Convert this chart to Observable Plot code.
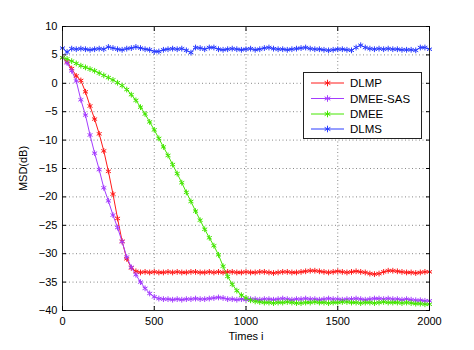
<!DOCTYPE html>
<html>
<head>
<meta charset="utf-8">
<script src="https://cdn.jsdelivr.net/npm/d3@7"></script>
<script src="https://cdn.jsdelivr.net/npm/@observablehq/plot@0.6"></script>
<style>
  html, body { margin: 0; padding: 0; background: #fff; }
  #wrap { position: relative; width: 474px; height: 350px; font-family: "Liberation Sans", Arial, Helvetica, sans-serif; }
  #legend { position: absolute; left: 303px; top: 72px; width: 119px; height: 67px; border: 1px solid #222; background: #fff; box-sizing: border-box; }
</style>
</head>
<body>
<div id="wrap"></div>
<script>
// ---- data ----
const seriesNames = ["DLMP", "DMEE-SAS", "DMEE", "DLMS"];
const seriesColors = ["#ff1a1a", "#a43cff", "#44e600", "#2a3cff"];
const iterations = d3.range(0, 2001, 25); // time index i, every 25 iterations

const dlmp = [
  4.5, 3.8, 2.6, 1.3, 0.5, -1.5, -4.0, -6.3, -8.9, -11.9, -15.5, -19.5, -23.8, -27.8, -30.9, -32.5, -33.1,
  -33.3, -33.2, -33.3, -33.2, -33.3, -33.3, -33.2, -33.3, -33.2, -33.3, -33.3, -33.2, -33.2, -33.3, -33.3, -33.2,
  -33.3, -33.2, -33.3, -33.2, -33.2, -33.3, -33.3, -33.2, -33.3, -33.3, -33.2, -33.2, -33.3, -33.4, -33.3, -33.2,
  -33.2, -33.3, -33.3, -33.2, -33.1, -33.0, -33.0, -33.1, -33.2, -33.3, -33.2, -33.1, -33.2, -33.3, -33.2, -33.1,
  -33.2, -33.3, -33.5, -33.6, -33.5, -33.2, -33.0, -33.0, -33.1, -33.2, -33.3, -33.3, -33.4, -33.3, -33.2, -33.2
];
const dmeeSas = [
  4.5, 3.6, 2.2, 0.4, -2.9, -5.6, -9.1, -12.3, -15.2, -18.4, -20.7, -23.2, -25.4, -27.9, -30.6, -32.4, -33.7,
  -35.0, -36.1, -37.0, -37.6, -37.9, -38.0,
  -38.0, -38.1, -38.0, -38.1, -38.0, -38.0, -37.9, -38.0, -38.0, -37.9, -37.8, -37.7, -37.8, -38.0, -38.0, -38.1,
  -38.0, -38.1, -38.0, -38.0, -38.1, -38.0, -38.0, -38.1, -38.0, -37.9, -38.0, -38.1, -38.0, -38.0, -37.9, -38.0,
  -38.0, -38.1, -38.0, -37.9, -38.0, -38.0, -38.1, -38.0, -38.0, -37.9, -38.0, -38.1, -38.0, -37.9, -37.9, -38.0,
  -37.9, -38.0, -38.0, -38.1, -38.0, -38.1, -38.2, -38.2, -38.3, -38.3
];
const dmee = [
  4.5, 4.3, 3.9, 3.5, 3.1, 2.8, 2.5, 2.2, 1.8, 1.4, 1.0, 0.6, 0.1, -0.4, -1.1, -2.0, -3.0, -4.2, -5.4, -6.8,
  -8.2, -9.7, -11.2, -12.7, -14.3, -15.9, -17.5, -19.2, -20.8, -22.5, -24.1, -25.7, -27.2, -28.6, -30.2, -32.2,
  -34.0, -35.4, -36.5, -37.3, -37.8, -38.2, -38.4, -38.5,
  -38.6, -38.6, -38.7, -38.6, -38.6, -38.5, -38.6, -38.7, -38.7, -38.6, -38.6, -38.5, -38.6, -38.6, -38.7, -38.6,
  -38.6, -38.5, -38.5, -38.6, -38.6, -38.7, -38.6, -38.6, -38.7, -38.6, -38.5, -38.6, -38.6, -38.6, -38.7, -38.6,
  -38.7, -38.8, -38.8, -38.9, -38.9
];
const dlms = [
  6.2, 5.5, 6.1, 6.0, 6.1, 6.0, 5.9, 6.0, 6.1, 6.0, 6.4, 6.2, 6.0, 5.9, 6.1, 6.2, 6.4, 6.2, 6.0, 5.9,
  5.6, 5.6, 5.9, 6.0, 6.1, 6.0, 6.1, 5.8, 5.4, 6.3, 6.2, 6.0, 6.3, 6.3, 6.0, 5.9, 6.0, 6.1, 6.0, 5.9,
  6.0, 6.1, 5.9, 6.0, 6.2, 6.3, 6.1, 6.0, 6.0, 5.9, 6.0, 6.1, 6.2, 6.3, 6.1, 6.0, 6.0, 5.9, 5.8, 5.9,
  6.0, 6.0, 5.9, 5.8, 6.3, 6.7, 6.3, 6.1, 6.0, 6.1, 6.0, 6.1, 6.0, 6.0, 5.9, 5.9, 5.9, 5.8, 6.3, 6.3, 6.0
];
const xTicks = [0, 500, 1000, 1500, 2000];
const yTicks = [-40, -35, -30, -25, -20, -15, -10, -5, 0, 5, 10];

// ---- long table for Plot ----
const allSeries = [dlmp, dmeeSas, dmee, dlms];
const rows = [];
allSeries.forEach((vals, k) => {
  vals.forEach((v, j) => rows.push({series: seriesNames[k], i: iterations[j], v}));
});

const fmt = d3.format("d");
const chart = Plot.plot({
  width: 474,
  height: 350,
  marginLeft: 62,
  marginRight: 45,
  marginTop: 26,
  marginBottom: 40,
  style: {fontFamily: "'Liberation Sans', Arial, Helvetica, sans-serif", fontSize: "11px", color: "#000", background: "#fff"},
  x: {domain: [0, 2000], label: "Times i", labelArrow: "none"},
  y: {domain: [-40, 10], label: "MSD(dB)", labelArrow: "none"},
  color: {domain: seriesNames, range: seriesColors},
  marks: [
    Plot.gridX(xTicks, {stroke: "#888", strokeOpacity: 1, strokeDasharray: "1,2.5"}),
    Plot.gridY(yTicks, {stroke: "#888", strokeOpacity: 1, strokeDasharray: "1,2.5"}),
    Plot.line(rows, {x: "i", y: "v", z: "series", stroke: "series", strokeWidth: 1}),
    Plot.dot(rows, {x: "i", y: "v", stroke: "series", symbol: "asterisk", r: 2.7, strokeWidth: 1}),
    Plot.frame({stroke: "#222", strokeWidth: 1}),
    Plot.axisX(xTicks, {anchor: "bottom", tickSize: -4, tickPadding: 11, tickFormat: fmt, label: "Times i", labelArrow: "none", labelAnchor: "center", labelOffset: 29, fontSize: 11}),
    Plot.axisX(xTicks, {anchor: "top", tickSize: -4, tickFormat: () => "", label: null}),
    Plot.axisY(yTicks, {anchor: "left", tickSize: -4, tickPadding: 9, tickFormat: fmt, label: "MSD(dB)", labelArrow: "none", labelAnchor: "center", labelOffset: 43, fontSize: 11}),
    Plot.axisY(yTicks, {anchor: "right", tickSize: -4, tickFormat: () => "", label: null})
  ]
});
const wrap = document.getElementById("wrap");
wrap.appendChild(chart);

// ---- legend (inside the axes, top right) ----
const legend = document.createElement("div");
legend.id = "legend";
const ns = "http://www.w3.org/2000/svg";
const lsvg = document.createElementNS(ns, "svg");
lsvg.setAttribute("width", 117);
lsvg.setAttribute("height", 65);
const rowY = [10, 25.5, 41, 56];
const star = d3.symbol(d3.symbolAsterisk, 30)();
seriesNames.forEach((name, k) => {
  const g = document.createElementNS(ns, "g");
  g.setAttribute("transform", `translate(0,${rowY[k]})`);
  const ln = document.createElementNS(ns, "line");
  ln.setAttribute("x1", 7); ln.setAttribute("x2", 40); ln.setAttribute("y1", 0); ln.setAttribute("y2", 0);
  ln.setAttribute("stroke", seriesColors[k]); ln.setAttribute("stroke-width", 1);
  g.appendChild(ln);
  const p = document.createElementNS(ns, "path");
  p.setAttribute("d", star);
  p.setAttribute("transform", "translate(23.5,0)");
  p.setAttribute("stroke", seriesColors[k]); p.setAttribute("fill", "none");
  g.appendChild(p);
  const t = document.createElementNS(ns, "text");
  t.setAttribute("x", 46); t.setAttribute("y", 0); t.setAttribute("dy", "0.35em");
  t.setAttribute("font-size", "11.5px");
  t.setAttribute("font-family", "'Liberation Sans', Arial, Helvetica, sans-serif");
  t.textContent = name;
  g.appendChild(t);
  lsvg.appendChild(g);
});
legend.appendChild(lsvg);
wrap.appendChild(legend);
</script>
</body>
</html>
